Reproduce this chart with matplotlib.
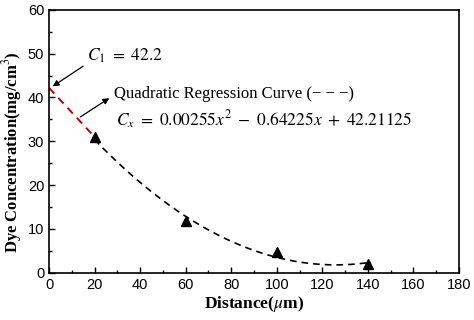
import numpy as np
import matplotlib.pyplot as plt
from matplotlib.ticker import MultipleLocator

# measured points (triangles)
dist = [20, 60, 100, 140]
conc = [31.0, 11.8, 4.8, 2.0]

# initial concentration at the inlet
c1 = 42.2

# quadratic regression coefficients, as printed on the chart
coef = [0.00255, -0.64225, 42.21125]

plt.rcParams["mathtext.fontset"] = "stix"

fig = plt.figure(figsize=(4.74, 3.2), dpi=100)
ax = fig.add_axes([0.1034, 0.148, 0.865, 0.821])

# red dashed piece from C1 to first measurement
ax.plot([0, dist[0]], [c1, conc[0]], ls=(0, (4, 3)), color="#c00000", lw=1.4)

# black dashed regression curve
xs = np.linspace(dist[0], dist[-1], 200)
ax.plot(xs, np.polyval(coef, xs), ls=(0, (4, 3)), color="black", lw=1.2)

ax.plot(dist, conc, "^", color="black", ms=7, zorder=3)

ax.set_xlim(0, 180)
ax.set_ylim(0, 60)
ax.xaxis.set_major_locator(MultipleLocator(20))
ax.xaxis.set_minor_locator(MultipleLocator(10))
ax.yaxis.set_major_locator(MultipleLocator(10))
ax.yaxis.set_minor_locator(MultipleLocator(5))
ax.tick_params(which="both", direction="in", top=False, right=False)
ax.tick_params(which="major", length=4, width=1, labelsize=10.5)
ax.tick_params(which="minor", length=2.5, width=1)
for lab in ax.get_xticklabels() + ax.get_yticklabels():
    lab.set_fontfamily("Liberation Sans")
for s in ax.spines.values():
    s.set_linewidth(1.2)

ax.set_xlabel(r"Distance($\mu$m)", family="Liberation Serif", weight="bold",
              fontsize=12.5, labelpad=2)
ax.set_ylabel("Dye Concentration(mg/cm$^3$)", family="Liberation Serif",
              weight="bold", fontsize=12)
ax.yaxis.set_label_coords(-0.062, 0.46)

arrow = dict(arrowstyle="-|>", color="black", lw=0.9, mutation_scale=9)
ax.annotate("", xy=(0.6, c1), xytext=(16, 47.5), arrowprops=arrow)
ax.text(16.5, 49.5, r"$C_1\ =\ 42.2$", fontsize=12.5, va="center", ha="left")

ax.annotate("", xy=(27.5, 40.2), xytext=(12.7, 35.2), arrowprops=arrow)
ax.text(28.5, 40.8, "Quadratic Regression Curve (\u2212 \u2212 \u2212)", fontsize=12,
        family="Liberation Serif", va="center", ha="left")
ax.text(29.5, 34.9, r"$C_x\ =\ 0.00255x^2\ -\ 0.64225x\ +\ 42.21125$", fontsize=12.5,
        va="center", ha="left")

fig.savefig("out.png", dpi=100)
